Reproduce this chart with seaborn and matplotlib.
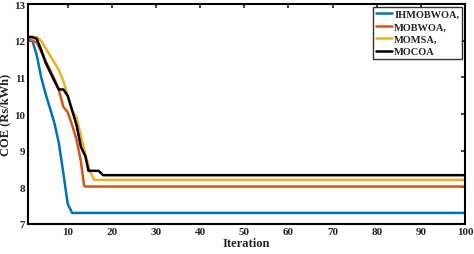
import matplotlib
matplotlib.use("Agg")
import matplotlib.pyplot as plt
import seaborn as sns
import pandas as pd

# Data
ihmobwoa_x = [1, 2, 3, 4, 5, 6, 7, 8, 9, 10, 11, 12, 100]
ihmobwoa_y = [12.0, 12.0, 11.6, 11.0, 10.55, 10.15, 9.75, 9.2, 8.4, 7.55, 7.3, 7.3, 7.3]

mobwoa_x = [1, 2, 3, 4, 5, 6, 7, 8, 9, 10, 11, 12, 13, 13.7, 14, 100]
mobwoa_y = [12.05, 12.0, 11.95, 11.7, 11.45, 11.2, 10.95, 10.65, 10.2, 10.05, 9.7, 9.3, 8.7, 8.05, 8.02, 8.02]

momsa_x = [1, 2, 3, 4, 5, 6, 7, 8, 9, 10, 11, 12, 13, 14, 15, 16, 100]
momsa_y = [12.1, 12.1, 12.1, 12.0, 11.8, 11.6, 11.4, 11.2, 10.9, 10.5, 10.1, 9.9, 9.4, 8.9, 8.45, 8.2, 8.2]

mocoa_x = [1, 2, 3, 4, 5, 6, 7, 8, 9, 10, 11, 12, 13, 14, 14.7, 17, 18, 100]
mocoa_y = [12.1, 12.1, 12.05, 11.75, 11.4, 11.15, 10.9, 10.67, 10.67, 10.5, 10.1, 9.7, 9.1, 8.85, 8.45, 8.45, 8.33, 8.33]

series = [
    ("IHMOBWOA,", ihmobwoa_x, ihmobwoa_y, "#0072BD"),
    ("MOBWOA,", mobwoa_x, mobwoa_y, "#D95319"),
    ("MOMSA,", momsa_x, momsa_y, "#EDB120"),
    ("MOCOA", mocoa_x, mocoa_y, "#000000"),
]

sns.set_style("white")
plt.rcParams['font.family'] = ['Liberation Serif', 'DejaVu Serif']
plt.rcParams['font.weight'] = 'bold'

fig = plt.figure(figsize=(4.74, 2.55), dpi=100)
ax = fig.add_axes([0.059, 0.118, 0.922, 0.862])

for name, xs, ys, col in series:
    df = pd.DataFrame({"Iteration": xs, "COE": ys})
    sns.lineplot(data=df, x="Iteration", y="COE", ax=ax, color=col, linewidth=1.8, label=name)

ax.set_xlim(1, 100)
ax.set_ylim(7, 13)
ax.set_xticks([10, 20, 30, 40, 50, 60, 70, 80, 90, 100])
ax.set_yticks([7, 8, 9, 10, 11, 12, 13])
ax.tick_params(direction="in", top=True, right=True, labelsize=8, length=3, width=1.2, pad=2)
for lab in ax.get_xticklabels() + ax.get_yticklabels():
    lab.set_fontweight("bold")
for sp in ax.spines.values():
    sp.set_color("black")
    sp.set_linewidth(1.5)
ax.set_xlabel("Iteration", fontsize=9, fontweight="bold", labelpad=1)
ax.set_ylabel("COE (Rs/kWh)", fontsize=9, fontweight="bold", labelpad=2)

leg = ax.legend(loc="upper right", frameon=True, fancybox=False,
                borderpad=0.25, labelspacing=0.3, handlelength=1.6, handletextpad=0.2,
                borderaxespad=0.3, prop={"weight": "bold", "size": 7.5})
leg.get_frame().set_edgecolor("black")
leg.get_frame().set_linewidth(1.0)

fig.savefig("out.png", dpi=100)
